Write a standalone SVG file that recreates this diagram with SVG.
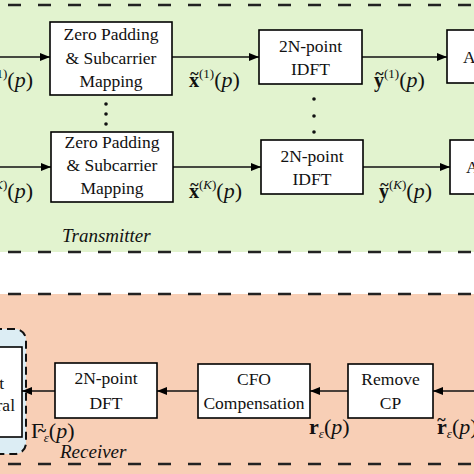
<svg xmlns="http://www.w3.org/2000/svg" width="474" height="474" viewBox="0 0 474 474">
<defs>
<marker id="ah" markerWidth="10" markerHeight="8" refX="10" refY="4" orient="auto" markerUnits="userSpaceOnUse"><path d="M0,0 L10,4 L0,8 z" fill="#000"/></marker>
<style>
.box{fill:#fff;stroke:#000;stroke-width:1.6}
.t{font-family:"Liberation Serif","Times New Roman",serif;font-size:17.5px;fill:#111;text-anchor:middle}
.m{font-family:"Liberation Serif","Times New Roman",serif;font-size:22px;fill:#111}
.sup{font-size:13px}
.b{font-weight:bold}
.i{font-style:italic}
.lbl{font-family:"Liberation Serif","Times New Roman",serif;font-size:19px;font-style:italic;fill:#111}
.dash{fill:none;stroke:#222;stroke-width:2.4;stroke-dasharray:13 17}
.conn{stroke:#111;stroke-width:1.6;fill:none;marker-end:url(#ah)}
.tl{font-family:"Liberation Serif","Times New Roman",serif;font-size:16px;font-weight:bold;fill:#111;text-anchor:middle}
</style>
</defs>
<rect width="474" height="474" fill="#fff"/>
<!-- regions -->
<rect x="0" y="0" width="474" height="252" fill="#e2f3cf"/>
<line class="dash" x1="8" y1="5" x2="474" y2="5"/>
<line class="dash" x1="8" y1="252" x2="474" y2="252"/>
<rect x="0" y="294" width="474" height="180" fill="#f8cfb6"/>
<line class="dash" x1="8" y1="294" x2="474" y2="294"/>
<line class="dash" x1="8" y1="464" x2="474" y2="464"/>
<rect x="-30" y="329" width="56" height="125" rx="11" fill="#dcedf4" stroke="#111" stroke-width="2" stroke-dasharray="8 5"/>
<text class="lbl" x="62" y="242">Transmitter</text>
<text class="lbl" x="60" y="458">Receiver</text>

<!-- connectors -->
<g id="connectors">
<line class="conn" x1="0" y1="57" x2="50" y2="57"/>
<line class="conn" x1="0" y1="167" x2="51" y2="167"/>
<line class="conn" x1="172" y1="57" x2="259" y2="57"/>
<line class="conn" x1="173" y1="167" x2="261" y2="167"/>
<line class="conn" x1="362" y1="57" x2="447" y2="57"/>
<line class="conn" x1="363" y1="167" x2="450" y2="167"/>
<line class="conn" x1="474" y1="391" x2="433" y2="391"/>
<line class="conn" x1="348" y1="391" x2="310" y2="391"/>
<line class="conn" x1="198" y1="391" x2="157" y2="391"/>
<line class="conn" x1="55" y1="391" x2="22" y2="391"/>
</g>

<!-- dots -->
<g fill="#111">
<circle cx="106" cy="104" r="1.8"/><circle cx="106" cy="114" r="1.8"/><circle cx="106" cy="124" r="1.8"/>
<circle cx="314" cy="99" r="1.8"/><circle cx="314" cy="116" r="1.8"/><circle cx="314" cy="132" r="1.8"/>
</g>

<!-- nodes -->
<g id="zp1"><rect class="box" x="50" y="22" width="122" height="73"/>
<text class="t" x="111" y="40">Zero Padding</text><text class="t" x="111" y="63.5">&amp; Subcarrier</text><text class="t" x="111" y="87">Mapping</text></g>
<g id="zpK"><rect class="box" x="51" y="132" width="122" height="70"/>
<text class="t" x="112" y="148">Zero Padding</text><text class="t" x="112" y="171">&amp; Subcarrier</text><text class="t" x="112" y="194">Mapping</text></g>
<g id="idft1"><rect class="box" x="259" y="30" width="103" height="54"/>
<text class="t" x="310.5" y="52">2N-point</text><text class="t" x="310.5" y="75">IDFT</text></g>
<g id="idftK"><rect class="box" x="261" y="140" width="102" height="54"/>
<text class="t" x="312" y="162">2N-point</text><text class="t" x="312" y="185">IDFT</text></g>
<g id="addcp1"><rect class="box" x="447" y="30" width="40" height="53"/>
<text class="t" x="463" y="63" style="text-anchor:start">Add CP</text></g>
<g id="addcpK"><rect class="box" x="450" y="140" width="40" height="54"/>
<text class="t" x="466" y="173" style="text-anchor:start">Add CP</text></g>
<g id="dft"><rect class="box" x="55" y="363" width="102" height="55"/>
<text class="t" x="106" y="384">2N-point</text><text class="t" x="106" y="409">DFT</text></g>
<g id="cfo"><rect class="box" x="198" y="364" width="112" height="54"/>
<text class="t" x="254" y="385">CFO</text><text class="t" x="254" y="409">Compensation</text></g>
<g id="rmcp"><rect class="box" x="348" y="364" width="85" height="54"/>
<text class="t" x="390.5" y="385">Remove</text><text class="t" x="390.5" y="409">CP</text></g>
<g id="out"><rect class="box" x="-20" y="347" width="42" height="90"/>
<text class="t" x="4" y="389" style="text-anchor:end">Output</text><text class="t" x="15" y="411" style="text-anchor:end">Spectral</text></g>

<!-- math labels -->
<text class="m" x="33" y="87" text-anchor="end"><tspan class="b">s</tspan><tspan class="sup" dy="-9">(1)</tspan><tspan dy="9">(</tspan><tspan class="i">p</tspan>)</text>
<text class="m" x="33" y="198" text-anchor="end"><tspan class="b">s</tspan><tspan class="sup" dy="-9">(<tspan class="i">K</tspan>)</tspan><tspan dy="9">(</tspan><tspan class="i">p</tspan>)</text>

<text class="m" x="189" y="87"><tspan class="b" font-size="20">x</tspan><tspan class="sup" dy="-9">(1)</tspan><tspan dy="9">(</tspan><tspan class="i">p</tspan>)</text>
<text class="tl" x="194.5" y="79">~</text>
<text class="m" x="189" y="198"><tspan class="b" font-size="20">x</tspan><tspan class="sup" dy="-9">(<tspan class="i">K</tspan>)</tspan><tspan dy="9">(</tspan><tspan class="i">p</tspan>)</text>
<text class="tl" x="194.5" y="190">~</text>

<text class="m" x="374" y="87"><tspan class="b" font-size="20">y</tspan><tspan class="sup" dy="-9">(1)</tspan><tspan dy="9">(</tspan><tspan class="i">p</tspan>)</text>
<text class="tl" x="379.5" y="79">~</text>
<text class="m" x="379" y="198"><tspan class="b" font-size="20">y</tspan><tspan class="sup" dy="-9">(<tspan class="i">K</tspan>)</tspan><tspan dy="9">(</tspan><tspan class="i">p</tspan>)</text>
<text class="tl" x="384.5" y="190">~</text>

<text class="m" x="309" y="434"><tspan class="b">r</tspan><tspan class="sup i" dy="4">ε</tspan><tspan dy="-4">(</tspan><tspan class="i">p</tspan>)</text>
<text class="m" x="437" y="434"><tspan class="b">r</tspan><tspan class="sup i" dy="4">ε</tspan><tspan dy="-4">(</tspan><tspan class="i">p</tspan>)</text>
<text class="tl" x="441.5" y="425">~</text>

<text class="m" x="31" y="438" font-size="19">Γ<tspan class="sup i" dy="4">ε</tspan><tspan dy="-4">(</tspan><tspan class="i">p</tspan>)</text>
<text class="tl" x="42" y="436" font-size="11">~</text>
</svg>
